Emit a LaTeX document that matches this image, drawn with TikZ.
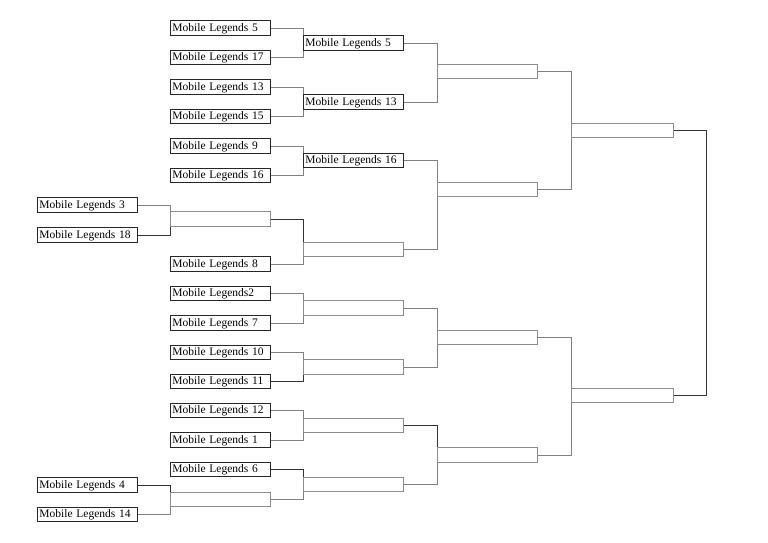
\documentclass[tikz,border=0pt]{standalone}
\usepackage{fontspec}
\setmainfont{Liberation Serif}
\usepackage{tikz}
\usetikzlibrary{backgrounds}
\tikzset{
  team/.style={
    rectangle,
    draw=black!85,
    line width=0.8pt,
    anchor=west,
    text width=96pt,
    align=left,
    inner xsep=2pt,
    inner ysep=1.8pt,
    text height=8.6pt,
    text depth=2.3pt,
    font=\fontsize{11.5}{13}\selectfont,
    text=black
  },
  slot/.style={
    rectangle,
    draw=black!45,
    line width=0.8pt,
    anchor=west,
    minimum width=100pt,
    minimum height=14.5pt,
    inner sep=0pt
  },
  link/.style={draw=black!50,line width=0.8pt},
  linkdark/.style={draw=black!80,line width=0.8pt}
}

\begin{document}
\begin{tikzpicture}[x=1pt,y=-1pt]
  \useasboundingbox (0,0) rectangle (768,543);
  % first column (byes)
  \node[team] (ml3)  at (37,205)   {Mobile Legends 3};
  \node[team] (ml18) at (37,235)   {Mobile Legends 18};
  \node[team] (ml4)  at (37,485)   {Mobile Legends 4};
  \node[team] (ml14) at (37,514.5) {Mobile Legends 14};
  % second column
  \node[team] (ml5)  at (170,28)    {Mobile Legends 5};
  \node[team] (ml17) at (170,57.5)  {Mobile Legends 17};
  \node[team] (ml13) at (170,87)    {Mobile Legends 13};
  \node[team] (ml15) at (170,116.5) {Mobile Legends 15};
  \node[team] (ml9)  at (170,146)   {Mobile Legends 9};
  \node[team] (ml16) at (170,175.5) {Mobile Legends 16};
  \node[slot] (s1)   at (170,219)   {};
  \node[team] (ml8)  at (170,264)   {Mobile Legends 8};
  \node[team] (ml2)  at (170,293.5) {Mobile Legends2};
  \node[team] (ml7)  at (170,323)   {Mobile Legends 7};
  \node[team] (ml10) at (170,352.5) {Mobile Legends 10};
  \node[team] (ml11) at (170,381.5) {Mobile Legends 11};
  \node[team] (ml12) at (170,410.5) {Mobile Legends 12};
  \node[team] (ml1)  at (170,440)   {Mobile Legends 1};
  \node[team] (ml6)  at (170,469.5) {Mobile Legends 6};
  \node[slot] (s2)   at (170,499.5) {};
  % third column
  \node[team] (w5)  at (303,43)    {Mobile Legends 5};
  \node[team] (w13) at (303,102)   {Mobile Legends 13};
  \node[team] (w16) at (303,160.5) {Mobile Legends 16};
  \node[slot] (s3)  at (303,249.5) {};
  \node[slot] (s4)  at (303,308)   {};
  \node[slot] (s5)  at (303,367)   {};
  \node[slot] (s6)  at (303,425.5) {};
  \node[slot] (s7)  at (303,484.5) {};
  % fourth column
  \node[slot] (s8)  at (437,71.5)  {};
  \node[slot] (s9)  at (437,189.5) {};
  \node[slot] (s10) at (437,337.5) {};
  \node[slot] (s11) at (437,455)   {};
  % fifth column
  \node[slot,minimum width=102pt] (s12) at (571,130.5) {};
  \node[slot,minimum width=102pt] (s13) at (571,395.5) {};
  \coordinate (champ) at (706,263);

  \begin{scope}[on background layer]
    \draw[link] (ml5.east) -| (w5.west);
    \draw[link] (ml17.east) -| (w5.west);
    \draw[link] (ml13.east) -| (w13.west);
    \draw[link] (ml15.east) -| (w13.west);
    \draw[link] (ml9.east) -| (w16.west);
    \draw[link] (ml16.east) -| (w16.west);
    \draw[link] (ml3.east) -| (s1.west);
    \draw[linkdark] (ml18.east) -| (s1.west);
    \draw[linkdark] (s1.east) -| (s3.west);
    \draw[link] (ml8.east) -| (s3.west);
    \draw[link] (ml2.east) -| (s4.west);
    \draw[link] (ml7.east) -| (s4.west);
    \draw[link] (ml10.east) -| (s5.west);
    \draw[linkdark] (ml11.east) -| (s5.west);
    \draw[link] (ml12.east) -| (s6.west);
    \draw[link] (ml1.east) -| (s6.west);
    \draw[linkdark] (ml4.east) -| (s2.west);
    \draw[link] (ml14.east) -| (s2.west);
    \draw[linkdark] (ml6.east) -| (s7.west);
    \draw[link] (s2.east) -| (s7.west);
    \draw[link] (w5.east) -| (s8.west);
    \draw[link] (w13.east) -| (s8.west);
    \draw[link] (w16.east) -| (s9.west);
    \draw[link] (s3.east) -| (s9.west);
    \draw[link] (s4.east) -| (s10.west);
    \draw[link] (s5.east) -| (s10.west);
    \draw[linkdark] (s6.east) -| (s11.west);
    \draw[link] (s7.east) -| (s11.west);
    \draw[link] (s8.east) -| (s12.west);
    \draw[link] (s9.east) -| (s12.west);
    \draw[link] (s10.east) -| (s13.west);
    \draw[link] (s11.east) -| (s13.west);
    \draw[linkdark] (s12.east) -| (champ);
    \draw[linkdark] (s13.east) -| (champ);
  \end{scope}
\end{tikzpicture}
\end{document}
